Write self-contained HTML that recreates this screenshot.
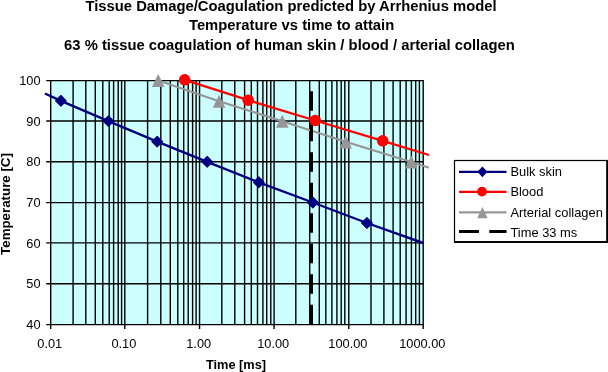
<!DOCTYPE html>
<html><head><meta charset="utf-8"><title>Tissue Damage/Coagulation</title>
<style>html,body{margin:0;padding:0;background:#fff;}body{width:608px;height:372px;position:relative;overflow:hidden;}</style></head>
<body>
<svg width="608" height="372" viewBox="0 0 608 372" style="position:absolute;left:0;top:0">
<rect x="50.8" y="80.5" width="372.4" height="244.0" fill="#ccffff"/>
<path d="M50.70 80.0V325.0M73.10 80.0V325.0M85.80 80.0V325.0M95.30 80.0V325.0M102.80 80.0V325.0M109.20 80.0V325.0M113.60 80.0V325.0M118.20 80.0V325.0M121.60 80.0V325.0M124.80 80.0V325.0M147.60 80.0V325.0M160.80 80.0V325.0M170.30 80.0V325.0M177.80 80.0V325.0M183.70 80.0V325.0M188.20 80.0V325.0M192.60 80.0V325.0M196.10 80.0V325.0M199.55 80.0V325.0M221.80 80.0V325.0M234.80 80.0V325.0M244.60 80.0V325.0M251.30 80.0V325.0M257.50 80.0V325.0M262.90 80.0V325.0M266.70 80.0V325.0M270.80 80.0V325.0M274.10 80.0V325.0M295.80 80.0V325.0M309.70 80.0V325.0M319.30 80.0V325.0M325.80 80.0V325.0M331.90 80.0V325.0M336.90 80.0V325.0M341.20 80.0V325.0M344.80 80.0V325.0M348.80 80.0V325.0M371.00 80.0V325.0M383.90 80.0V325.0M393.10 80.0V325.0M400.20 80.0V325.0M406.10 80.0V325.0M411.40 80.0V325.0M415.70 80.0V325.0M419.40 80.0V325.0M423.20 80.0V325.0M50.2 324.60H423.70M50.2 283.70H423.70M50.2 242.90H423.70M50.2 202.60H423.70M50.2 161.80H423.70M50.2 121.00H423.70M50.2 80.60H423.70" stroke="#000" stroke-width="1.4" fill="none"/>
<path d="M46.2 324.60H50.8M46.2 283.70H50.8M46.2 242.90H50.8M46.2 202.60H50.8M46.2 161.80H50.8M46.2 121.00H50.8M46.2 80.60H50.8M50.70 324.5V329.0M124.80 324.5V329.0M199.55 324.5V329.0M274.10 324.5V329.0M348.80 324.5V329.0M423.20 324.5V329.0" stroke="#000" stroke-width="1.4" fill="none"/>
<path d="M158.2 80.5L219.1 101.2L282.3 121.2L345.7 141.8L411.3 162.0L429 167.7" stroke="#969696" stroke-width="2.2" fill="none" stroke-linejoin="round"/>
<path d="M158.2 74.1L164.5 87.1H151.9Z" fill="#969696"/>
<path d="M219.1 94.8L225.4 107.8H212.8Z" fill="#969696"/>
<path d="M282.3 114.8L288.6 127.8H276.0Z" fill="#969696"/>
<path d="M345.7 135.4L352.0 148.4H339.4Z" fill="#969696"/>
<path d="M411.3 155.6L417.6 168.6H405.0Z" fill="#969696"/>
<path d="M311.5 91.2V324.8" stroke="#000" stroke-width="3" stroke-dasharray="19.5 11" fill="none"/>
<path d="M44.9 93.5L60.9 100.8L108.4 121.1L157.2 141.6L207.2 161.8L258.8 182.3L312.8 202.5L366.9 223.0L423.2 243" stroke="#000080" stroke-width="2.4" fill="none" stroke-linejoin="round"/>
<path d="M55.6 100.8L60.9 95.5L66.2 100.8L60.9 106.1Z" fill="#000080" stroke="#000080" stroke-width="1.2" stroke-linejoin="round"/>
<path d="M103.1 121.1L108.4 115.8L113.7 121.1L108.4 126.4Z" fill="#000080" stroke="#000080" stroke-width="1.2" stroke-linejoin="round"/>
<path d="M151.9 141.6L157.2 136.3L162.5 141.6L157.2 146.9Z" fill="#000080" stroke="#000080" stroke-width="1.2" stroke-linejoin="round"/>
<path d="M201.9 161.8L207.2 156.5L212.5 161.8L207.2 167.1Z" fill="#000080" stroke="#000080" stroke-width="1.2" stroke-linejoin="round"/>
<path d="M253.5 182.3L258.8 177.0L264.1 182.3L258.8 187.6Z" fill="#000080" stroke="#000080" stroke-width="1.2" stroke-linejoin="round"/>
<path d="M307.5 202.5L312.8 197.2L318.1 202.5L312.8 207.8Z" fill="#000080" stroke="#000080" stroke-width="1.2" stroke-linejoin="round"/>
<path d="M361.6 223.0L366.9 217.7L372.2 223.0L366.9 228.3Z" fill="#000080" stroke="#000080" stroke-width="1.2" stroke-linejoin="round"/>
<path d="M184.7 79.8L248.2 100.2L315.2 120.5L382.7 140.8L429 155" stroke="#ff0000" stroke-width="2.3" fill="none" stroke-linejoin="round"/>
<circle cx="184.7" cy="79.8" r="5.8" fill="#ff0000"/>
<circle cx="248.2" cy="100.2" r="5.8" fill="#ff0000"/>
<circle cx="315.2" cy="120.5" r="5.8" fill="#ff0000"/>
<circle cx="382.7" cy="140.8" r="5.8" fill="#ff0000"/>
<rect x="454.5" y="160.5" width="152.5" height="81.2" fill="#fff" stroke="#000" stroke-width="1.2"/>
<path d="M454 242.2H608M607.2 160V243" stroke="#000" stroke-width="1.6" fill="none"/>
<path d="M459 171.8H506.5" stroke="#000080" stroke-width="2.3"/>
<path d="M477.4 171.8L482.4 166.4L487.4 171.8L482.4 177.2Z" fill="#000080"/>
<path d="M459 191.8H506.5" stroke="#ff0000" stroke-width="2.3"/>
<circle cx="482" cy="191.60000000000002" r="4.9" fill="#ff0000"/>
<path d="M459 212.3H506.5" stroke="#969696" stroke-width="2.3"/>
<path d="M482.4 207.1L487.6 218.3H477.2Z" fill="#969696"/>
<path d="M459 231.4H479M489.3 231.4H506.5" stroke="#000" stroke-width="3"/>
<g font-family="Liberation Sans, Arial, sans-serif" font-size="12.9" fill="#000">
<text x="510.4" y="176.4">Bulk skin</text>
<text x="510.4" y="196.4">Blood</text>
<text x="510.4" y="216.6">Arterial collagen</text>
<text x="510.4" y="236.8">Time 33 ms</text>
</g>
<g font-family="Liberation Sans, Arial, sans-serif" font-size="12.8" fill="#000">
<text x="40.6" y="329.0" text-anchor="end">40</text>
<text x="40.6" y="288.3" text-anchor="end">50</text>
<text x="40.6" y="247.7" text-anchor="end">60</text>
<text x="40.6" y="207.0" text-anchor="end">70</text>
<text x="40.6" y="166.3" text-anchor="end">80</text>
<text x="40.6" y="125.7" text-anchor="end">90</text>
<text x="40.6" y="85.0" text-anchor="end">100</text>
<text x="49.8" y="347.7" text-anchor="middle">0.01</text>
<text x="123.9" y="347.7" text-anchor="middle">0.10</text>
<text x="198.7" y="347.7" text-anchor="middle">1.00</text>
<text x="273.2" y="347.7" text-anchor="middle">10.00</text>
<text x="347.9" y="347.7" text-anchor="middle">100.00</text>
<text x="422.3" y="347.7" text-anchor="middle">1000.00</text>
</g>
<g font-family="Liberation Sans, Arial, sans-serif" font-weight="bold" fill="#000">
<text x="236" y="369" font-size="12.8" text-anchor="middle">Time [ms]</text>
<text transform="translate(10.2,254.9) rotate(-90)" font-size="12.6" textLength="101.8" lengthAdjust="spacingAndGlyphs">Temperature [C]</text>
<text x="291" y="10.7" font-size="14.8" text-anchor="middle">Tissue Damage/Coagulation predicted by Arrhenius model</text>
<text x="291.6" y="30.2" font-size="14.8" text-anchor="middle">Temperature vs time to attain</text>
<text x="289.4" y="49.8" font-size="14.8" text-anchor="middle">63 % tissue coagulation of human skin / blood / arterial collagen</text>
</g>
</svg>
</body></html>
